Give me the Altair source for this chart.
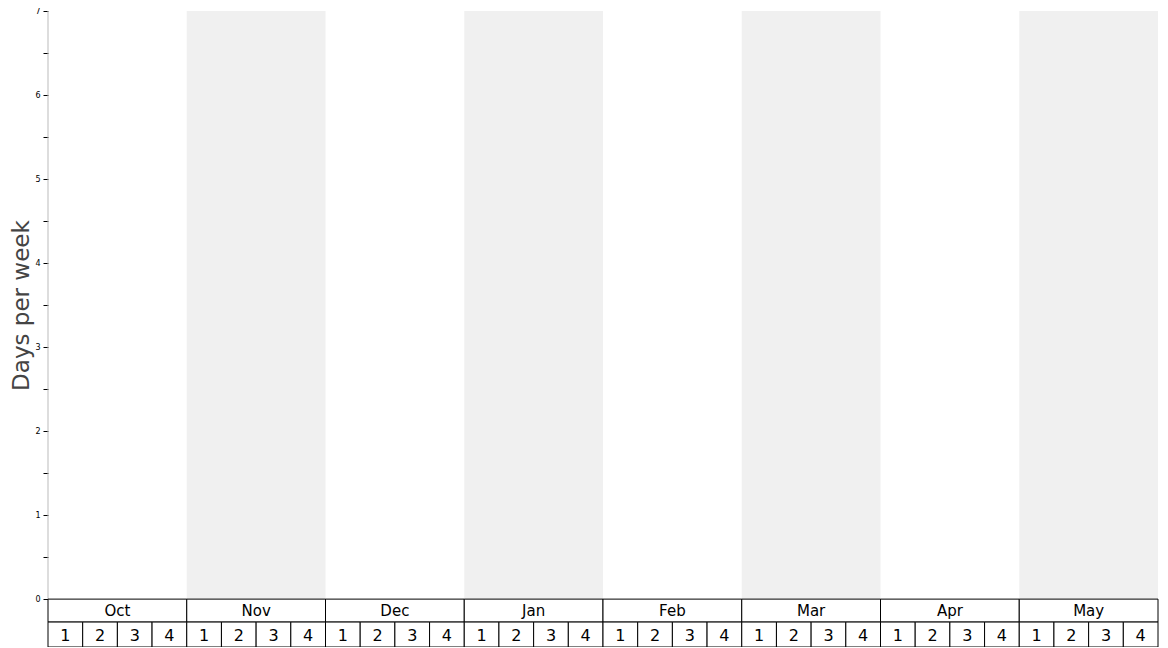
import altair as alt
import pandas as pd

# ---- data ----
months = ["Oct", "Nov", "Dec", "Jan", "Feb", "Mar", "Apr", "May"]
weeks = [1, 2, 3, 4]
shaded_months = ["Nov", "Jan", "Mar", "May"]
y_tick_values = [0, 0.5, 1, 1.5, 2, 2.5, 3, 3.5, 4, 4.5, 5, 5.5, 6, 6.5, 7]
y_max = 7

# ---- layout constants (not data) ----
PLOT_W = 1110
PLOT_H = 636
ROW_MONTH = 0.273     # height of month row in y units
ROW_WEEK = 0.297      # height of week row in y units
Y_MIN = -(ROW_MONTH + ROW_WEEK)
FONT = "DejaVu Sans"

nw = len(weeks)
month_df = pd.DataFrame({
    "month": months,
    "x0": [i * nw for i in range(len(months))],
    "x1": [(i + 1) * nw for i in range(len(months))],
})
month_df["xm"] = (month_df["x0"] + month_df["x1"]) / 2
month_df["shaded"] = month_df["month"].isin(shaded_months)
month_df["y0"] = -ROW_MONTH
month_df["y1"] = 0.0
month_df["top"] = float(y_max)
month_df["bottom"] = 0.0

week_rows = []
for i, m in enumerate(months):
    for j, w in enumerate(weeks):
        week_rows.append({"month": m, "week": str(w), "x0": i * nw + j, "x1": i * nw + j + 1})
week_df = pd.DataFrame(week_rows)
week_df["xm"] = (week_df["x0"] + week_df["x1"]) / 2
week_df["y0"] = Y_MIN
week_df["y1"] = -ROW_MONTH

xs = alt.Scale(domain=[0, len(months) * nw], nice=False, zero=False)
ys = alt.Scale(domain=[Y_MIN, y_max], nice=False, zero=False)

base_m = alt.Chart(month_df)
base_w = alt.Chart(week_df)

bands = base_m.transform_filter("datum.shaded").mark_rect(color="#f0f0f0").encode(
    x=alt.X("x0:Q", scale=xs, axis=None),
    x2="x1:Q",
    y=alt.Y("bottom:Q", scale=ys, axis=alt.Axis(
        values=y_tick_values,
        labelExpr="datum.value % 1 === 0 ? format(datum.value, 'd') : ''",
        labelFontSize=8, labelColor="#000", labelFont=FONT, labelPadding=3,
        tickColor="#000", tickSize=5, tickWidth=1,
        domain=False, grid=False,
        title="Days per week", titleFontSize=23, titleColor="#444",
        titleFont=FONT, titleFontWeight="normal", titlePadding=1,
        titleY=(PLOT_H * y_max / (y_max - Y_MIN)) / 2,
    )),
    y2="top:Q",
)

axis_line = base_m.transform_filter("datum.month == 'Oct'").mark_rule(color="#bbb", strokeWidth=1).encode(
    x=alt.X("x0:Q", scale=xs),
    y=alt.Y("bottom:Q", scale=ys),
    y2="top:Q",
)

month_cells = base_m.mark_rect(fill="white", stroke="#000", strokeWidth=1).encode(
    x=alt.X("x0:Q", scale=xs), x2="x1:Q",
    y=alt.Y("y0:Q", scale=ys), y2="y1:Q",
)
month_text = base_m.transform_calculate(ym="(datum.y0 + datum.y1) / 2").mark_text(
    font=FONT, fontSize=15, color="#000", baseline="middle", align="center", dy=0
).encode(
    x=alt.X("xm:Q", scale=xs), y=alt.Y("ym:Q", scale=ys), text="month:N"
)

week_cells = base_w.mark_rect(fill="white", stroke="#000", strokeWidth=1).encode(
    x=alt.X("x0:Q", scale=xs), x2="x1:Q",
    y=alt.Y("y0:Q", scale=ys), y2="y1:Q",
)
week_text = base_w.transform_calculate(ym="(datum.y0 + datum.y1) / 2").mark_text(
    font=FONT, fontSize=16, color="#000", baseline="middle", align="center", dy=1
).encode(
    x=alt.X("xm:Q", scale=xs), y=alt.Y("ym:Q", scale=ys), text="week:N"
)

chart = alt.layer(
    bands, axis_line, month_cells, month_text, week_cells, week_text
).properties(
    width=PLOT_W, height=PLOT_H,
    autosize=alt.AutoSizeParams(type="none"),
    padding={"left": 40, "top": 3, "right": 2, "bottom": 0},
    background="white",
).configure_view(stroke=None)

chart.save("out.html", embed_options={"renderer": "svg", "actions": False})
